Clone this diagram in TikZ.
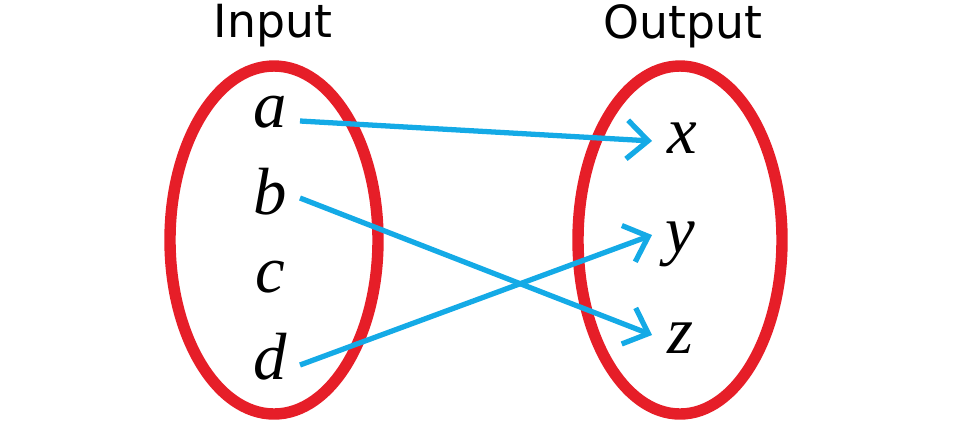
\documentclass[tikz,border=0pt]{standalone}
\usepackage{fontspec}
\setmainfont{Liberation Serif}
\newfontfamily\lab{DejaVu Sans}
\usetikzlibrary{arrows.meta}
\definecolor{ered}{RGB}{230,30,40}
\definecolor{acyan}{RGB}{20,170,230}
\begin{document}
\begin{tikzpicture}[x=0.02cm,y=-0.02cm,
  oval/.style={draw=ered,line width=6.5pt},
  elem/.style={font=\fontsize{38}{42}\selectfont\itshape,inner sep=0pt},
  head/.style={font=\lab\fontsize{26}{30}\selectfont},
  conn/.style={draw=acyan,line width=3pt,-{Straight Barb[length=12pt,width=22pt,line width=3pt]}}]
\useasboundingbox (0,0) rectangle (969,441);
\draw[oval] (274,240) ellipse [x radius=104, y radius=174];
\draw[oval] (680,240) ellipse [x radius=102, y radius=174];
\node[head] (in) at (273,26) {Input};
\node[head] (out) at (683,26) {Output};
\node[elem] (a) at (270,112) {a};
\node[elem] (b) at (270,192) {b};
\node[elem] (c) at (270,277) {c};
\node[elem] (d) at (270,357) {d};
\node[elem] (x) at (682,138) {x};
\node[elem] (y) at (680,244) {y};
\node[elem] (z) at (680,338) {z};
\coordinate (as) at (300,121);
\coordinate (xe) at (652,141);
\coordinate (bs) at (300,198);
\coordinate (ze) at (652,335);
\coordinate (ds) at (300,365);
\coordinate (ye) at (652,235);
\draw[conn] (as) -- (xe);
\draw[conn] (bs) -- (ze);
\draw[conn] (ds) -- (ye);
\end{tikzpicture}
\end{document}
